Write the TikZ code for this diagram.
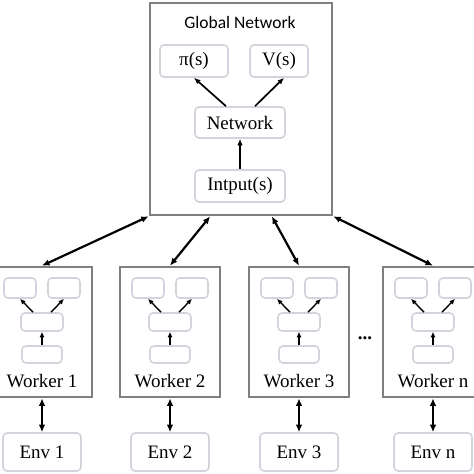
\documentclass[tikz,border=0pt]{standalone}
\usepackage{fontspec}
\setmainfont{Liberation Serif}
\newfontfamily\titlefont{Carlito}
\usetikzlibrary{arrows.meta,calc}
\definecolor{outergray}{HTML}{7F7F7F}
\definecolor{innergray}{HTML}{D3D3DB}
\tikzset{
  outerbox/.style={draw=outergray,line width=2.6pt,inner sep=0pt,minimum width=100pt,minimum height=130pt},
  innerbox/.style={draw=innergray,line width=1.6pt,rounded corners=4pt,inner sep=0pt,fill=white},
  lbl/.style={font=\fontsize{19}{21}\selectfont},
  bigarrow/.style={line width=2.2pt,{Latex[length=7.5pt,width=6.5pt]}-{Latex[length=7.5pt,width=6.5pt]}},
  smallarrow/.style={line width=1.4pt,-{Latex[length=5.5pt,width=5pt]}},
  midarrow/.style={line width=1.7pt,-{Latex[length=6.5pt,width=5.5pt]}}
}
\begin{document}
\begin{tikzpicture}[x=1pt,y=-1pt]
\useasboundingbox (0,0) rectangle (474,474);
\clip (0,0) rectangle (474,474);
% Global network
\node[outerbox,minimum width=182pt,minimum height=212pt] (g) at (241,109) {};
\node[font=\titlefont\fontsize{17.5}{19}\selectfont] (gt) at (240,22) {Global Network};
\node[innerbox,minimum width=68pt,minimum height=32pt,lbl] (pi) at (194,61) {π(s)};
\node[innerbox,minimum width=58pt,minimum height=32pt,lbl] (v) at (279,61) {V(s)};
\node[innerbox,minimum width=90pt,minimum height=31pt,lbl] (net) at (240,122.5) {Network};
\node[innerbox,minimum width=90pt,minimum height=32pt,lbl] (inp) at (240,186) {Intput(s)};
\draw[midarrow] ($(net.north)+(-14,0)$) -- (pi.south);
\draw[midarrow] ($(net.north)+(15,0)$) -- ($(v.south)+(5,0)$);
\draw[midarrow] (inp.north) -- (net.south);
% Workers
\foreach \c/\n/\t in {42/1/Worker 1,170/2/Worker 2,299/3/Worker 3,433/n/Worker n}{
  \node[outerbox] (w\n) at (\c,332) {};
  \node[innerbox,minimum width=32pt,minimum height=20pt] (wa\n) at (\c-22,288) {};
  \node[innerbox,minimum width=32pt,minimum height=20pt] (wb\n) at (\c+22,288) {};
  \node[innerbox,minimum width=42pt,minimum height=18pt] (wm\n) at (\c,322) {};
  \node[innerbox,minimum width=40pt,minimum height=17pt] (wi\n) at (\c,354.5) {};
  \node[lbl] (wt\n) at (\c,381) {\t};
  \draw[smallarrow] ($(wm\n.north)+(-9,0)$) -- (wa\n.south);
  \draw[smallarrow] ($(wm\n.north)+(9,0)$) -- (wb\n.south);
  \draw[smallarrow] (wi\n.north) -- (wm\n.south);
  \node[innerbox,minimum width=78pt,minimum height=38pt,lbl] (e\n) at (\c,452) {Env \n};
  \draw[bigarrow] (w\n.south) -- (e\n.north);
}
\node[lbl] (dots) at (365,338) {\textbf{...}};
% Global to workers
\draw[bigarrow] (g.south west) -- (w1.north);
\draw[bigarrow] ($(g.south west)!0.333!(g.south east)$) -- (w2.north);
\draw[bigarrow] ($(g.south west)!0.667!(g.south east)$) -- (w3.north);
\draw[bigarrow] (g.south east) -- (wn.north);
\end{tikzpicture}
\end{document}
